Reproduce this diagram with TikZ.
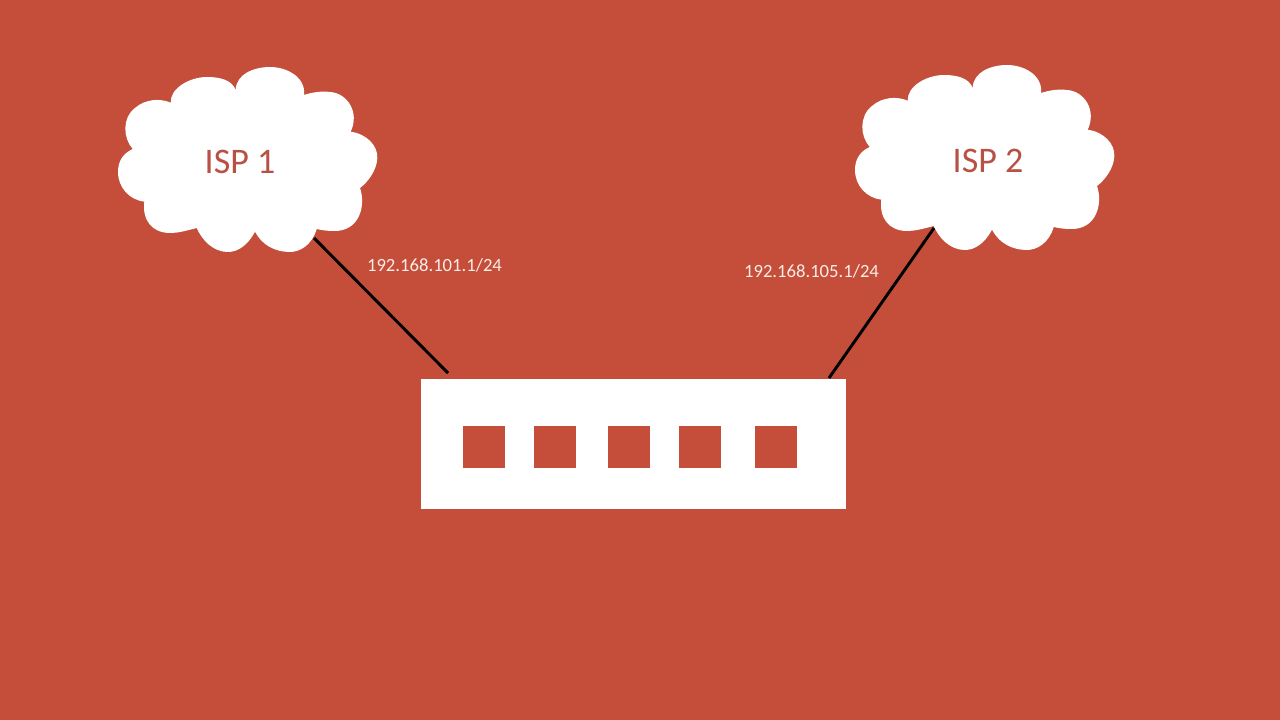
\documentclass[tikz,border=0pt]{standalone}
\usepackage{xcolor}
\usepackage{fontspec}
\setmainfont{Carlito}
\definecolor{slide-red}{RGB}{196,78,58}
\definecolor{isp-red}{RGB}{184,80,68}
\definecolor{addr-white}{RGB}{250,236,230}
\tikzset{
    switch-box/.style = {fill=white, rectangle, inner sep=0pt, minimum width=318.75pt, minimum height=97.5pt},
    port-box/.style = {fill=slide-red, rectangle, inner sep=0pt, minimum size=31.5pt},
    isp-label/.style = {text=isp-red, font=\fontsize{27}{30}\selectfont},
    addr-label/.style = {text=addr-white, font=\fontsize{14}{16}\selectfont},
    link-line/.style = {draw=black, line width=2.2pt},
    cloud-blob/.pic = {
        \fill[white] (235.7,90) .. controls (236,74) and (254,67) .. (270,67)
            .. controls (288,67) and (306,78) .. (304,95)
            .. controls (313,92) and (322,91) .. (330,92)
            .. controls (347,93) and (360,112) .. (350.7,131.7)
            .. controls (367,134) and (378,146) .. (377.3,158)
            .. controls (377,170) and (368,182) .. (360,188)
            .. controls (366,205) and (360,232) .. (333,231)
            .. controls (327,231) and (321,230) .. (316.7,229)
            .. controls (312,245) and (300,252) .. (290,252)
            .. controls (275,252) and (262,245) .. (255,231.7)
            .. controls (248,245) and (238,252) .. (228,252)
            .. controls (213,252) and (202,240) .. (196.7,228)
            .. controls (185,231) and (178,233) .. (170,233)
            .. controls (152,233) and (142,220) .. (144.3,201.7)
            .. controls (130,200) and (118,188) .. (118,172)
            .. controls (118,160) and (124,153) .. (132.7,149)
            .. controls (123,138) and (122,118) .. (135,108)
            .. controls (145,99) and (160,98) .. (170.7,102.7)
            .. controls (170,88) and (190,77) .. (207,77)
            .. controls (220,77) and (232,80) .. (235.7,90) -- cycle;
    },
}

\begin{document}
\begin{tikzpicture}[x=0.75pt, y=-0.75pt]
\fill[slide-red] (0,0) rectangle (1280,720);
\useasboundingbox (0,0) rectangle (1280,720);

\coordinate (isp1-port) at (314,238);
\coordinate (isp2-port) at (934,228);
\coordinate (switch-left) at (448,373);
\coordinate (switch-right) at (829,378);
\draw[link-line] (isp1-port) -- (switch-left);
\draw[link-line] (isp2-port) -- (switch-right);

\pic at (0,0) {cloud-blob};
\pic at (737,-2) {cloud-blob};
\node[isp-label] (isp1) at (240,162) {ISP 1};
\node[isp-label] (isp2) at (988,161) {ISP 2};

\node[addr-label] (addr1) at (434.5,265) {192.168.101.1/24};
\node[addr-label] (addr2) at (811.5,271) {192.168.105.1/24};

\node[switch-box] (switch) at (633.5,444) {};
\foreach \portx [count=\n] in {484,555,629,700,776}
    \node[port-box] (port\n) at (\portx,447) {};
\end{tikzpicture}
\end{document}
